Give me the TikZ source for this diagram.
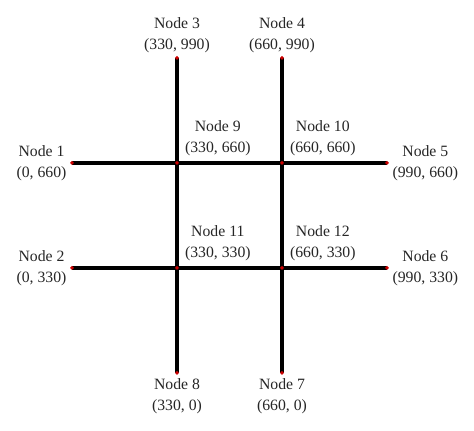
\documentclass[tikz,border=0pt]{standalone}
\usepackage{fontspec}
\setmainfont{Liberation Serif}
\usepackage{tikz}
\usepackage{xcolor}

\begin{document}
\begin{tikzpicture}[x=3cm,y=3cm,
  road/.style={line width=2.6pt,black},
  lbl/.style={align=center,text=black!85,font=\fontsize{12.8}{17}\selectfont}]
\useasboundingbox (-0.686,-0.552) rectangle (3.829,3.552);

\coordinate (n1) at (0,2);
\coordinate (n2) at (0,1);
\coordinate (n3) at (1,3);
\coordinate (n4) at (2,3);
\coordinate (n5) at (3,2);
\coordinate (n6) at (3,1);
\coordinate (n7) at (2,0);
\coordinate (n8) at (1,0);
\coordinate (n9) at (1,2);
\coordinate (n10) at (2,2);
\coordinate (n11) at (1,1);
\coordinate (n12) at (2,1);

\draw[road] (n1) -- (n5);
\draw[road] (n2) -- (n6);
\draw[road] (n3) -- (n8);
\draw[road] (n4) -- (n7);

\foreach \n in {1,...,12}
  \fill[red!80!black] (n\n) circle (1.6pt);

\node[lbl,anchor=east,xshift=-1pt] (l1) at (n1) {Node 1\\(0, 660)};
\node[lbl,anchor=east,xshift=-1pt] (l2) at (n2) {Node 2\\(0, 330)};
\node[lbl,anchor=south,yshift=1pt] (l3) at (n3) {Node 3\\(330, 990)};
\node[lbl,anchor=south,yshift=1pt] (l4) at (n4) {Node 4\\(660, 990)};
\node[lbl,anchor=west,xshift=1pt] (l5) at (n5) {Node 5\\(990, 660)};
\node[lbl,anchor=west,xshift=1pt] (l6) at (n6) {Node 6\\(990, 330)};
\node[lbl,anchor=north,yshift=-1pt] (l7) at (n7) {Node 7\\(660, 0)};
\node[lbl,anchor=north,yshift=-1pt] (l8) at (n8) {Node 8\\(330, 0)};
\node[lbl,anchor=south west,xshift=3pt,yshift=2pt] (l9) at (n9) {Node 9\\(330, 660)};
\node[lbl,anchor=south west,xshift=3pt,yshift=2pt] (l10) at (n10) {Node 10\\(660, 660)};
\node[lbl,anchor=south west,xshift=3pt,yshift=2pt] (l11) at (n11) {Node 11\\(330, 330)};
\node[lbl,anchor=south west,xshift=3pt,yshift=2pt] (l12) at (n12) {Node 12\\(660, 330)};
\end{tikzpicture}
\end{document}
